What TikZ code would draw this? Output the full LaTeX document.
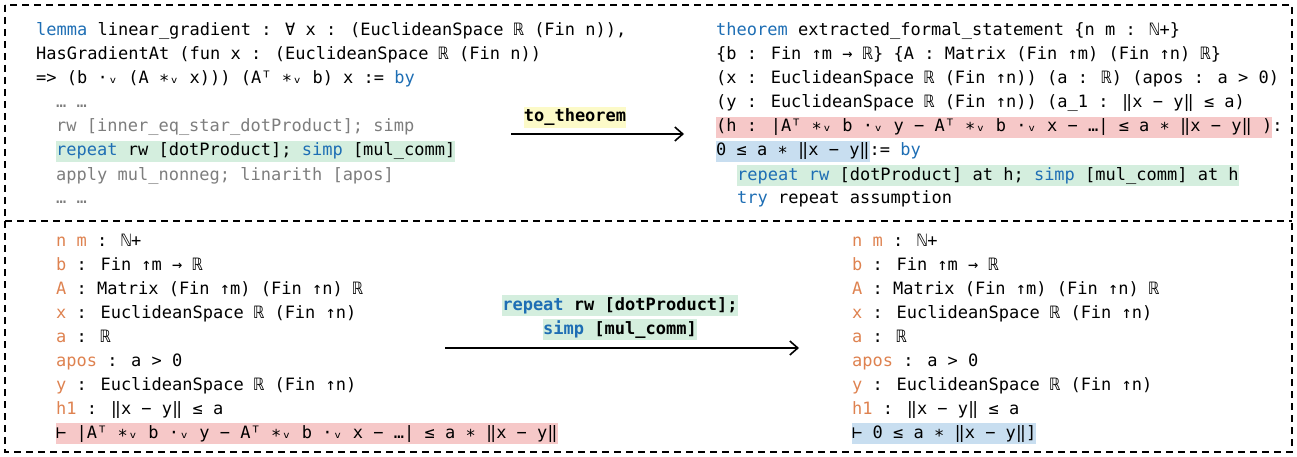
\documentclass[tikz,border=0pt]{standalone}
\usepackage{fontspec}
\setmainfont{DejaVu Sans Mono}
\setmonofont{DejaVu Sans Mono}
\usetikzlibrary{arrows.meta}
\definecolor{kwc}{RGB}{30,110,180}
\definecolor{vrc}{RGB}{222,130,80}
\definecolor{grc}{RGB}{125,125,125}
\definecolor{hlg}{RGB}{212,238,222}
\definecolor{hlr}{RGB}{246,200,200}
\definecolor{hlb}{RGB}{200,222,240}
\definecolor{hly}{RGB}{252,250,200}
\newcommand{\kw}[1]{\textcolor{kwc}{#1}}
\newcommand{\vr}[1]{\textcolor{vrc}{#1}}
\newcommand{\gr}[1]{\textcolor{grc}{#1}}
\newcommand{\hl}[2]{{\setlength{\fboxsep}{0pt}\colorbox{#1}{\vrule height 15pt depth 6pt width 0pt #2}}}
\begin{document}
\begin{tikzpicture}[x=1pt,y=1pt,
  ln/.style={anchor=base west,inner sep=0pt,font=\fontsize{17}{20}\selectfont},
  lb/.style={anchor=base,inner sep=0pt,font=\fontsize{17}{20}\selectfont\bfseries},
  box/.style={draw,line width=1.4pt,dash pattern=on 7pt off 5pt},
  arr/.style={-{Straight Barb[length=8pt,width=14pt]},line width=1.6pt}]
\useasboundingbox (0,0) rectangle (1297,-457);
\draw[box] (5,-5) rectangle (1292,-452);
\draw[box] (5,-221) -- (1292,-221);
% top left
\node[ln] (l1) at (36,-36) {\kw{lemma} linear\_gradient : ∀ x : (EuclideanSpace ℝ (Fin n)),};
\node[ln] (l2) at (36,-60) {HasGradientAt (fun x : (EuclideanSpace ℝ (Fin n))};
\node[ln] (l3) at (36,-84) {=> (b ·ᵥ (A ∗ᵥ x))) (Aᵀ ∗ᵥ b) x := \kw{by}};
\node[ln] (l4) at (56,-108) {\gr{… …}};
\node[ln] (l5) at (56,-132) {\gr{rw [inner\_eq\_star\_dotProduct]; simp}};
\node[ln] (l6) at (56,-156) {\hl{hlg}{\kw{repeat} rw [dotProduct]; \kw{simp} [mul\_comm]}};
\node[ln] (l7) at (56,-180) {\gr{apply mul\_nonneg; linarith [apos]}};
\node[ln] (l8) at (56,-204) {\gr{… …}};
% top right
\node[ln] (r1) at (716,-36) {\kw{theorem} extracted\_formal\_statement \{n m : ℕ+\}};
\node[ln] (r2) at (716,-60) {\{b : Fin ↑m → ℝ\} \{A : Matrix (Fin ↑m) (Fin ↑n) ℝ\}};
\node[ln] (r3) at (716,-84) {(x : EuclideanSpace ℝ (Fin ↑n)) (a : ℝ) (apos : a > 0)};
\node[ln] (r4) at (716,-108) {(y : EuclideanSpace ℝ (Fin ↑n)) (a\_1 : ‖x − y‖ ≤ a)};
\node[ln] (r5) at (716,-132) {\hl{hlr}{(h : |Aᵀ ∗ᵥ b ·ᵥ y − Aᵀ ∗ᵥ b ·ᵥ x − …| ≤ a ∗ ‖x − y‖ )}:};
\node[ln] (r6) at (716,-156) {\hl{hlb}{0 ≤ a ∗ ‖x − y‖}:= \kw{by}};
\node[ln] (r7) at (737,-180) {\hl{hlg}{\kw{repeat rw} [dotProduct] at h; \kw{simp} [mul\_comm] at h}};
\node[ln] (r8) at (737,-204) {\kw{try} repeat assumption};
% top arrow
\coordinate (a1s) at (511,-134);
\coordinate (a1e) at (684,-134);
\draw[arr] (a1s) -- (a1e);
\node[lb] (t1) at (575,-122) {\hl{hly}{to\_theorem}};
% bottom left
\node[ln] (b1) at (56,-246) {\vr{n m} : ℕ+};
\node[ln] (b2) at (56,-270) {\vr{b} : Fin ↑m → ℝ};
\node[ln] (b3) at (56,-294) {\vr{A} : Matrix (Fin ↑m) (Fin ↑n) ℝ};
\node[ln] (b4) at (56,-318) {\vr{x} : EuclideanSpace ℝ (Fin ↑n)};
\node[ln] (b5) at (56,-342) {\vr{a} : ℝ};
\node[ln] (b6) at (56,-366) {\vr{apos} : a > 0};
\node[ln] (b7) at (56,-390) {\vr{y} : EuclideanSpace ℝ (Fin ↑n)};
\node[ln] (b8) at (56,-414) {\vr{h1} : ‖x − y‖ ≤ a};
\node[ln] (b9) at (56,-438) {\hl{hlr}{⊢ |Aᵀ ∗ᵥ b ·ᵥ y − Aᵀ ∗ᵥ b ·ᵥ x − …| ≤ a ∗ ‖x − y‖}};
% bottom right
\node[ln] (c1) at (852,-246) {\vr{n m} : ℕ+};
\node[ln] (c2) at (852,-270) {\vr{b} : Fin ↑m → ℝ};
\node[ln] (c3) at (852,-294) {\vr{A} : Matrix (Fin ↑m) (Fin ↑n) ℝ};
\node[ln] (c4) at (852,-318) {\vr{x} : EuclideanSpace ℝ (Fin ↑n)};
\node[ln] (c5) at (852,-342) {\vr{a} : ℝ};
\node[ln] (c6) at (852,-366) {\vr{apos} : a > 0};
\node[ln] (c7) at (852,-390) {\vr{y} : EuclideanSpace ℝ (Fin ↑n)};
\node[ln] (c8) at (852,-414) {\vr{h1} : ‖x − y‖ ≤ a};
\node[ln] (c9) at (852,-438) {\hl{hlb}{⊢ 0 ≤ a ∗ ‖x − y‖]}};
% bottom arrow
\coordinate (a2s) at (445,-348);
\coordinate (a2e) at (799,-348);
\draw[arr] (a2s) -- (a2e);
\node[lb] (t2) at (620,-310) {\hl{hlg}{\kw{repeat} rw [dotProduct];}};
\node[lb] (t3) at (620,-334) {\hl{hlg}{\kw{simp} [mul\_comm]}};
\end{tikzpicture}
\end{document}
